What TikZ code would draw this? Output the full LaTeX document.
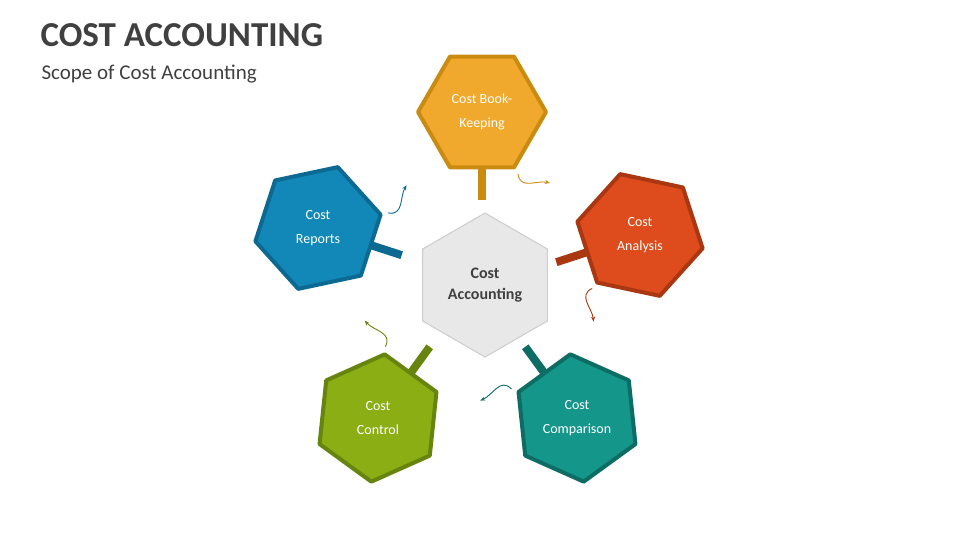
\documentclass[tikz,border=0pt]{standalone}
\usepackage{fontspec}
\setmainfont{Carlito}
\usetikzlibrary{shapes.geometric,arrows.meta}
\definecolor{tgray}{HTML}{404040}
\definecolor{f0}{HTML}{F0A92C}\definecolor{b0}{HTML}{C98B10}
\definecolor{f1}{HTML}{DE4B1C}\definecolor{b1}{HTML}{A83712}
\definecolor{f2}{HTML}{14968A}\definecolor{b2}{HTML}{0D6C64}
\definecolor{f3}{HTML}{8AAE14}\definecolor{b3}{HTML}{66840E}
\definecolor{f4}{HTML}{1288B8}\definecolor{b4}{HTML}{0C6A92}
\tikzset{
  hexa/.style={regular polygon, regular polygon sides=6, minimum size=128pt, inner sep=0pt, line width=4pt, line join=round},
  htext/.style={text=white, font=\fontsize{14}{24}\selectfont, align=center},
  stem/.style={line width=8pt},
  curl/.style={line width=0.9pt, -{Stealth[length=5pt,width=4pt]}},
}
\begin{document}
\begin{tikzpicture}[x=1pt,y=1pt]
\useasboundingbox (0,0) rectangle (960,-540);
\node[anchor=west, text=tgray, font=\bfseries\fontsize{35}{40}\selectfont] (title) at (37,-35) {COST ACCOUNTING};
\node[anchor=west, text=tgray, font=\fontsize{21}{24}\selectfont] (sub) at (38,-74) {Scope of Cost Accounting};
\node[regular polygon, regular polygon sides=6, rotate=30, minimum size=144pt, inner sep=0pt, fill=black!9, draw=black!20, line width=1pt] (c) at (485,-285) {};
\node[text=tgray, font=\bfseries\fontsize{16}{21}\selectfont, align=center] (ct) at (485,-285) {Cost\\Accounting};
\foreach \k/\x/\y/\t in {0/482/112/{Cost Book-\\Keeping},1/640/235/{Cost\\Analysis},2/577/418/{Cost\\Comparison},3/378/418/{Cost\\Control},4/318/228/{Cost\\Reports}}{
  \begin{scope}[shift={(\x,-\y)}, rotate=-72*\k]
    \coordinate (s\k a) at (0,-50);
    \coordinate (s\k b) at (0,-88);
    \draw[stem, draw=b\k] (s\k a) -- (s\k b);
    \node[hexa, rotate=-72*\k, fill=f\k, draw=b\k] (h\k) at (0,0) {};
    \coordinate (a\k s) at (36,-62);
    \coordinate (a\k e) at (68,-71);
    \draw[curl, draw=b\k] (a\k s) .. controls (38,-78) and (55,-68) .. (a\k e);
  \end{scope}
  \node[htext] (t\k) at (\x,-\y) {\t};
}
\end{tikzpicture}
\end{document}
